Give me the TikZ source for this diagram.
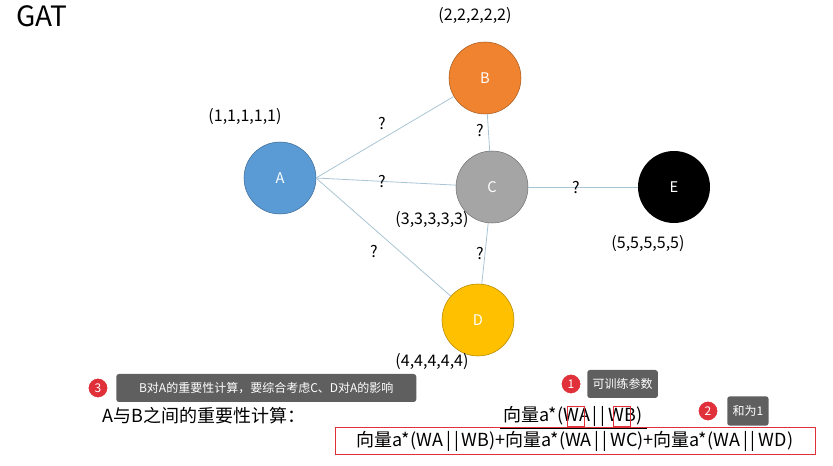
\documentclass[tikz,border=0pt]{standalone}
\usepackage{fontspec}
\setmainfont{Noto Sans CJK SC}
\definecolor{ca}{HTML}{5B9BD5}
\definecolor{cb}{HTML}{F0832F}
\definecolor{cc}{HTML}{A5A5A5}
\definecolor{cd}{HTML}{FFC000}
\definecolor{ce}{HTML}{A9C4D4}
\definecolor{tipc}{HTML}{5F5F5F}
\definecolor{rd}{HTML}{E0303A}
\begin{document}
\begin{tikzpicture}[x=0.75pt,y=-0.75pt,
  nd/.style={circle,minimum size=54pt,inner sep=0pt,text=white,font=\fontsize{11}{13}\selectfont},
  ed/.style={draw=ce,line width=0.6pt},
  q/.style={font=\fontsize{12}{14}\selectfont},
  lab/.style={font=\fontsize{12}{14}\selectfont},
  tip/.style={fill=tipc,rounded corners=2pt,text=white,font=\fontsize{9}{11}\selectfont,inner sep=4pt,anchor=west},
  badge/.style={circle,fill=rd,draw=white,line width=0.8pt,text=white,font=\fontsize{9}{11}\selectfont,inner sep=0pt,minimum size=15pt},
  big/.style={font=\fontsize{13.5}{16}\selectfont}]
\useasboundingbox (0,0) rectangle (833,466);
\node[font=\fontsize{21}{24}\selectfont] (gat) at (42,16) {GAT};
\node[nd,fill=ca,draw=ca!70!black,line width=0.4pt] (A) at (280,178) {A};
\node[nd,fill=cb,draw=cb!70!black,line width=0.4pt] (B) at (485,78) {B};
\node[nd,fill=cc,draw=cc!70!black,line width=0.4pt] (C) at (492,187) {C};
\node[nd,fill=cd,draw=cd!70!black,line width=0.4pt] (D) at (478,320) {D};
\node[nd,fill=black] (E) at (674,187) {E};
\coordinate (a0) at (316,178);
\begin{scope}[on background layer/.style={}]
\end{scope}
\draw[ed] (a0) -- (B); \draw[ed] (a0) -- (C); \draw[ed] (a0) -- (D);
\draw[ed] (B) -- (C); \draw[ed] (C) -- (D); \draw[ed] (C) -- (E);
\node[q] (q1) at (382,124) {?};
\node[q] (q2) at (382,182) {?};
\node[q] (q3) at (374,252) {?};
\node[q] (q4) at (480,131) {?};
\node[q] (q5) at (480,254) {?};
\node[q] (q6) at (576,188) {?};
\node[lab] (la) at (245,117) {(1,1,1,1,1)};
\node[lab] (lb) at (475,16) {(2,2,2,2,2)};
\node[lab] (lc) at (432,220) {(3,3,3,3,3)};
\node[lab] (le) at (648,244) {(5,5,5,5,5)};
\node[lab] (ld) at (432,362) {(4,4,4,4,4)};
\node[tip,minimum height=21pt,minimum width=225pt,align=left] (t3) at (116,388) {B对A的重要性计算，要综合考虑C、D对A的影响};
\node[badge] (b3) at (98,388) {3};
\node[tip,minimum height=21pt] (t1) at (587,384) {可训练参数};
\node[badge] (b1) at (571,384) {1};
\node[tip,minimum height=22pt] (t2) at (727,411) {和为1};
\node[badge] (b2) at (708,411) {2};
\node[big,anchor=west] (txt) at (98,416) {A与B之间的重要性计算：};
\node[big,inner sep=1pt] (num) at (573,416) {向量a*(WA\,|\,|\,WB)};
\draw[black] (500,428) -- (647,428);
\node[draw=rd,big,minimum width=360pt,minimum height=20pt,inner sep=1pt] (den) at (575,441) {向量a*(WA\,|\,|\,WB)+向量a*(WA\,|\,|\,WC)+向量a*(WA\,|\,|\,WD)};
\draw[rd] (567,406) rectangle (584,426);
\draw[rd] (613,406) rectangle (630,426);
\end{tikzpicture}
\end{document}
